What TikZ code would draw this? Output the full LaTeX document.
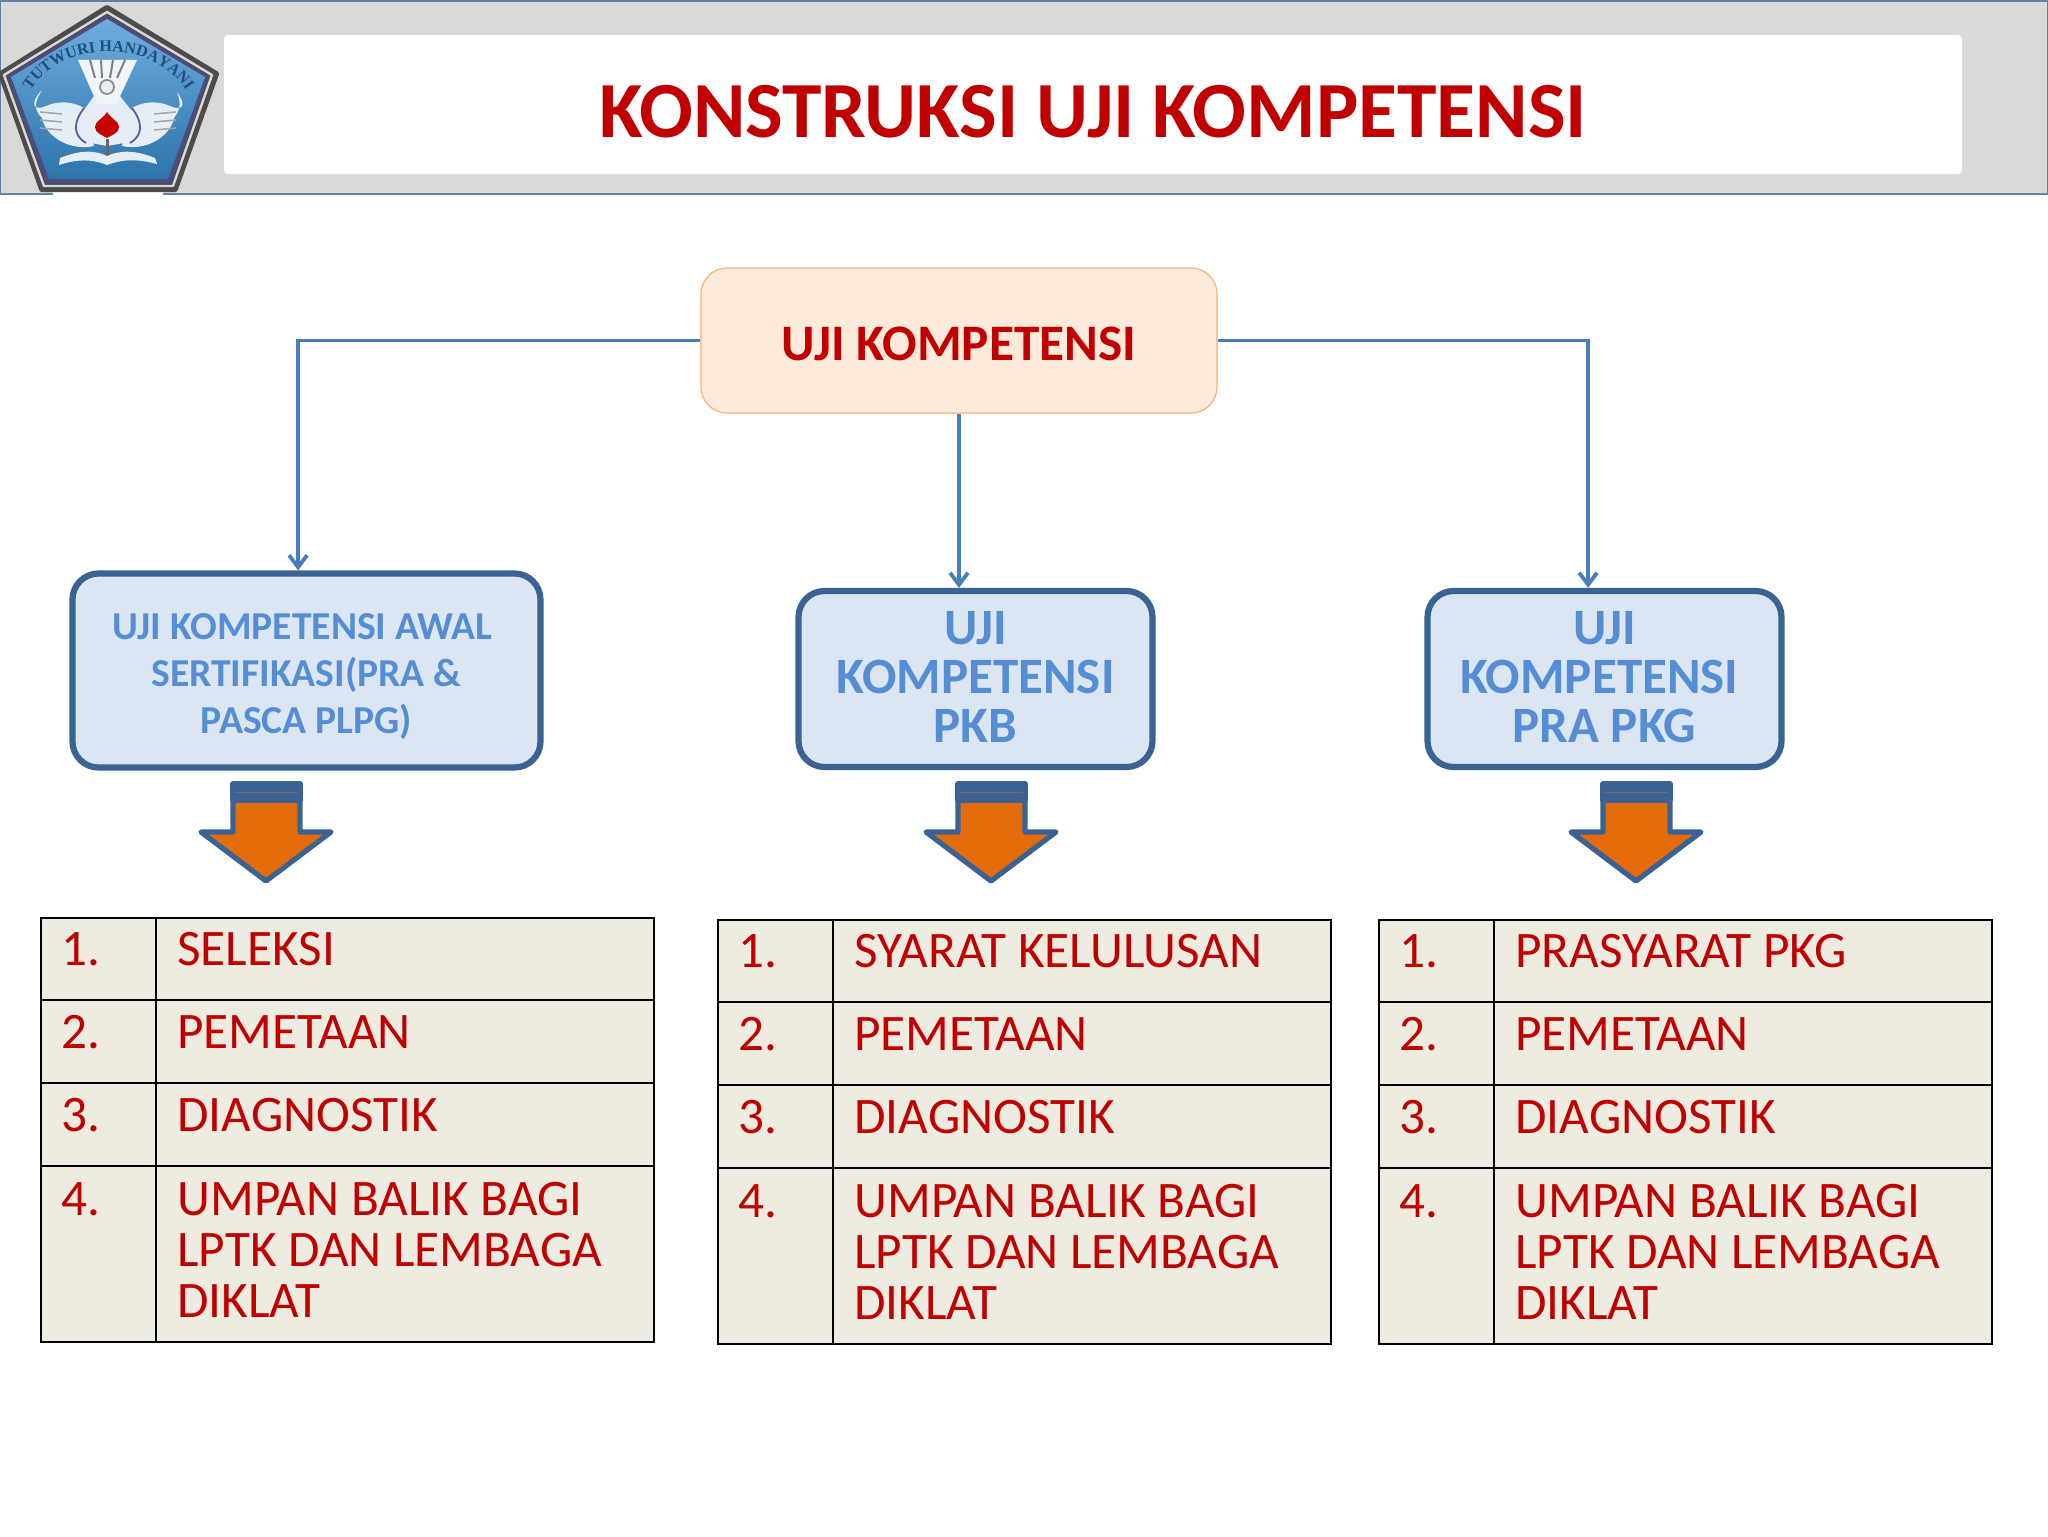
\documentclass[tikz,border=0pt]{standalone}
\usepackage{fontspec}
\setmainfont{Carlito}
\newfontfamily\logofont{Liberation Serif}
\usetikzlibrary{arrows.meta,decorations.text,calc}
\definecolor{headgray}{HTML}{D9D9D9}
\definecolor{headline}{HTML}{5F7FA6}
\definecolor{titlered}{HTML}{C00000}
\definecolor{conn}{HTML}{4A7EBB}
\definecolor{boxblue}{HTML}{DCE6F2}
\definecolor{boxedge}{HTML}{3A6393}
\definecolor{boxtext}{HTML}{558ED5}
\definecolor{peach}{HTML}{FDEADA}
\definecolor{peachedge}{HTML}{F2B27A}
\definecolor{tablefill}{HTML}{EEECE1}
\definecolor{arroworange}{HTML}{E46C0A}
\definecolor{logotext}{HTML}{1D4F80}
\definecolor{logowhite}{HTML}{E6EEF5}
\tikzset{
  x=0.5pt,y=-0.5pt,
  topbox/.style={draw=peachedge,fill=peach,line width=0.6pt,rounded corners=13pt,minimum width=258pt,minimum height=72.5pt,inner sep=0pt,font=\bfseries\fontsize{25.6}{30}\selectfont,text=titlered},
  subbox/.style={draw=boxedge,fill=boxblue,line width=3.1pt,rounded corners=13pt,inner sep=0pt,text=boxtext,align=center},
  bigsub/.style={subbox,font=\bfseries\fontsize{25.5}{24.5}\selectfont},
  smallsub/.style={subbox,font=\bfseries\fontsize{19.8}{23.7}\selectfont},
  link/.style={draw=conn,line width=1.9pt,-{Straight Barb[length=6pt,width=9pt,line width=1.9pt]}},
  tablebox/.style={draw=black,fill=tablefill,line width=1.1pt,inner sep=0pt,minimum width=306.5pt,minimum height=212pt,anchor=north west},
  gridline/.style={draw=black,line width=1.1pt},
  cell/.style={inner sep=0pt,anchor=north west,align=left,text=titlered,font=\fontsize{25.6}{25.5}\selectfont},
  numcell/.style={inner sep=0pt,anchor=north west,text=titlered,font=\fontsize{25.6}{25.5}\selectfont},
  downarrow/.style={draw=boxedge,fill=arroworange,line width=2.6pt,line join=round},
  arrowband/.style={fill=boxedge,draw=boxedge,line width=2.6pt,line join=round},
}
% #1 prefix, #2 x, #3 y, #4 first item
\newcommand{\infotable}[4]{%
  \begin{scope}[shift={(#2,#3)}]
    \node[tablebox] (#1) at (0,0) {};
    \draw[gridline] (116,0) -- (116,424);
    \draw[gridline] (0,83) -- (613,83);
    \draw[gridline] (0,166) -- (613,166);
    \draw[gridline] (0,249) -- (613,249);
    \node[numcell] (#1n1) at (21,15) {1.};
    \node[numcell] (#1n2) at (21,98) {2.};
    \node[numcell] (#1n3) at (21,181) {3.};
    \node[numcell] (#1n4) at (21,265) {4.};
    \node[cell] (#1a) at (137,15) {#4};
    \node[cell] (#1b) at (137,98) {PEMETAAN};
    \node[cell] (#1c) at (137,181) {DIAGNOSTIK};
    \node[cell] (#1d) at (137,265) {UMPAN BALIK BAGI\\LPTK DAN LEMBAGA\\DIKLAT};
  \end{scope}}
% #1 centre x
\newcommand{\blockarrow}[1]{%
  \begin{scope}[shift={(#1,0)}]
    \draw[downarrow] (-33,784) -- (34,784) -- (34,832) -- (65,832) -- (0,881) -- (-65,832) -- (-33,832) -- cycle;
    \fill[arrowband] (-33,784) rectangle (34,800);
    \draw[arroworange!45!boxedge,line width=0.5pt] (-31,792) -- (32,792);
  \end{scope}}
\begin{document}
\begin{tikzpicture}
\path[use as bounding box,fill=white] (0,0) rectangle (2048,1536);
% header
\fill[headgray] (0,0) rectangle (2048,194);
\draw[headline,line width=0.8pt] (0,194) -- (0,1) -- (2048,1) -- (2048,194) -- cycle;
\fill[white,rounded corners=2pt] (224,35) rectangle (1962,174);
\node[inner sep=0pt,text=titlered,font=\bfseries\fontsize{39.8}{44}\selectfont] (title) at (1093,112) {KONSTRUKSI UJI KOMPETENSI};
% logo
\fill[white] (53,191) rectangle (163,197);
\draw[black!70,line width=3pt,line join=round,fill=black!70] (107,8) -- (216,74) -- (175,189) -- (42,189) -- (1,74) -- cycle;
\draw[white!85!black,line width=1.2pt,line join=round] (107,12) -- (212,75) -- (173,186) -- (44,186) -- (4,75) -- cycle;
\fill[black!50!blue!40!gray,line join=round] (107,15) -- (209,76) -- (171,183) -- (46,183) -- (7,76) -- cycle;
\shade[top color={rgb,255:red,112;green,172;blue,222},bottom color={rgb,255:red,44;green,116;blue,170}] (107,19) -- (205,77) -- (168,179) -- (49,179) -- (11,77) -- cycle;
\path[decorate,decoration={text along path,text align=center,text={|\logofont\bfseries\fontsize{8}{8}\selectfont\color{logotext}|TUTWURI HANDAYANI}}] (29,93) .. controls (60,38) and (156,38) .. (188,93);
% wings
\fill[logowhite] (42,90) .. controls (30,102) and (32,112) .. (46,106) .. controls (60,100) and (74,102) .. (84,108) -- (94,146) .. controls (65,152) and (44,132) .. (42,118) .. controls (32,108) and (36,100) .. (42,90) -- cycle;
\fill[logowhite] (177,92) .. controls (186,104) and (184,112) .. (170,106) .. controls (156,100) and (142,102) .. (132,108) -- (122,146) .. controls (151,152) and (172,132) .. (174,118) .. controls (182,108) and (180,100) .. (177,92) -- cycle;
\fill[logowhite] (94,96) -- (120,96) -- (142,124) -- (130,142) -- (107,146) -- (86,142) -- (74,124) -- cycle;
\draw[blue!30!gray,line width=0.9pt] (84,108) .. controls (72,124) and (74,136) .. (86,143);
\draw[blue!30!gray,line width=0.9pt] (132,108) .. controls (144,124) and (142,136) .. (130,143);
\foreach \y in {112,120,128}{\draw[black!35,line width=0.8pt] (40,\y) -- (62,\y+2); \draw[black!35,line width=0.8pt] (176,\y) -- (154,\y+2);}
% fan and head
\fill[logowhite!60!white] (78,60) -- (137,60) -- (122,92) -- (116,104) -- (98,104) -- (92,92) -- cycle;
\foreach \a/\b in {90/95,101/102,113/110,125/117}{\draw[black!50,line width=1pt] (\a,60) -- (\b,78);}
\draw[black!45,line width=0.9pt,fill=logowhite] (107,87) circle (7);
% flame
\fill[red!78!black] (107,112) .. controls (111,119) and (119,121) .. (119,127) .. controls (119,133) and (112,135) .. (107,138) .. controls (102,135) and (95,133) .. (95,127) .. controls (95,121) and (103,119) .. (107,112) -- cycle;
\draw[black!60,line width=1.5pt] (107,139) -- (107,156);
% book
\fill[logowhite] (60,158) .. controls (80,150) and (95,150) .. (107,156) .. controls (120,150) and (135,150) .. (155,158) -- (157,164) .. controls (135,158) and (120,160) .. (107,165) .. controls (95,160) and (80,158) .. (59,165) -- cycle;
% boxes
\node[topbox] (top) at (959,340.5) {\rule{0pt}{20.5pt}UJI KOMPETENSI};
\node[smallsub,minimum width=234pt,minimum height=97pt] (b1) at (306.5,670.5) {\rule{0pt}{19pt}UJI KOMPETENSI AWAL\hspace*{4pt}\\SERTIFIKASI(PRA \&\\PASCA PLPG)};
\node[bigsub,minimum width=177pt,minimum height=88pt] (b2) at (975.5,679) {UJI\\KOMPETENSI\\PKB\rule[-2pt]{0pt}{0pt}};
\node[bigsub,minimum width=177pt,minimum height=88pt] (b3) at (1604.5,679) {UJI\\\mbox{KOMPETENSI\kern 5.2pt}\\PRA PKG\rule[-2pt]{0pt}{0pt}};
% connectors
\draw[link] (top.west) -| ([xshift=-4.2pt]b1.north);
\draw[link] (top.south) -- (top.south |- b2.north);
\draw[link] (top.east) -| ([xshift=-8.2pt]b3.north);
% block arrows
\blockarrow{266}
\blockarrow{991}
\blockarrow{1636}
% tables
\infotable{ta}{40}{917}{SELEKSI}
\infotable{tb}{717}{919}{SYARAT KELULUSAN}
\infotable{tc}{1378}{919}{PRASYARAT PKG}
\end{tikzpicture}
\end{document}
